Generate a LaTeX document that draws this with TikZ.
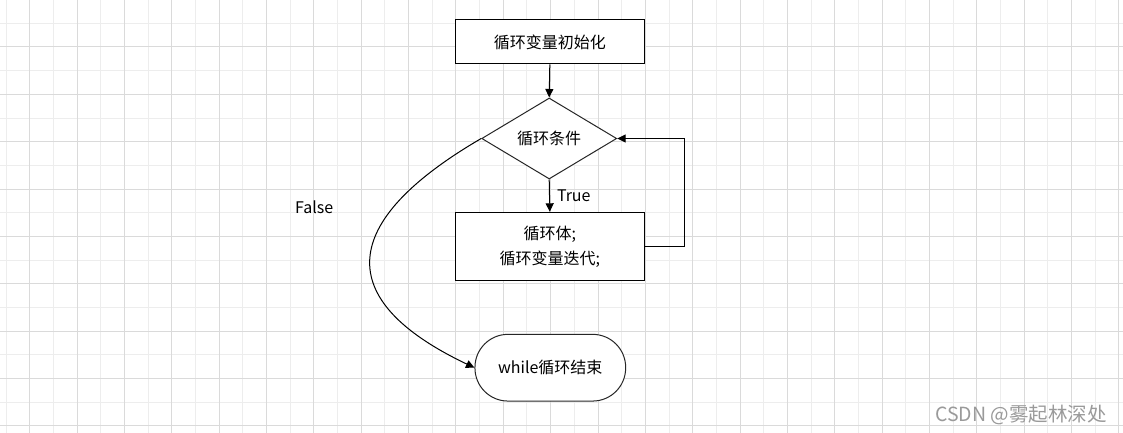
\documentclass[tikz,border=0pt]{standalone}
\usepackage{fontspec}
\setmainfont{Noto Sans CJK SC}
\usetikzlibrary{arrows.meta,shapes.geometric}
\definecolor{gridlight}{HTML}{EDEDED}
\definecolor{griddark}{HTML}{DADADA}
\definecolor{wmgray}{HTML}{9A9A9A}
\begin{document}
\begin{tikzpicture}[x=1pt,y=-1pt,
  txt/.style={font=\fontsize{16}{25}\selectfont,text=black},
  box/.style={txt,draw=black,line width=1pt,fill=white,minimum width=189pt,inner sep=0pt,align=center},
  dia/.style={txt,diamond,draw=black!85,line width=1pt,fill=white,minimum width=135pt,minimum height=81pt,inner sep=0pt,shape aspect=1.67},
  term/.style={txt,draw=black!85,line width=1pt,fill=white,rounded corners=33pt,minimum width=150.7pt,minimum height=66.7pt,inner sep=0pt},
  arr/.style={draw=black,line width=1pt,-{Triangle[length=8.5pt,width=8pt]}},
  lbl/.style={txt,inner sep=0pt}
]
\useasboundingbox (0,0) rectangle (1123,433);
\fill[white] (0,0) rectangle (1123,433);
% grid
\foreach \k in {0,2,...,46} {\draw[gridlight,line width=1pt] ({6+23.68*\k},0) -- ({6+23.68*\k},433);}
\foreach \j in {0,2,...,16} {\draw[gridlight,line width=1pt] (0,{23.3+23.68*\j}) -- (1123,{23.3+23.68*\j});}
\foreach \k in {1,3,...,47} {\draw[griddark,line width=1pt] ({6+23.68*\k},0) -- ({6+23.68*\k},433);}
\foreach \j in {1,3,...,17} {\draw[griddark,line width=1pt] (0,{23.3+23.68*\j}) -- (1123,{23.3+23.68*\j});}

\node[box,minimum height=44pt] (init) at (549.8,42) {循环变量初始化};
\node[dia] (cond) at (549.2,138.5) {循环条件};
\node[box,minimum height=68pt] (body) at (549.8,246.3) {循环体;\\循环变量迭代;};
\node[term] (end) at (550.3,367.7) {while循环结束};

\draw[arr] (init.south) -- (cond.north);
\draw[arr] (cond.south) -- node[lbl,anchor=west,xshift=7pt] (true) {True} (body.north);
\draw[arr] (body.east) -- ++(39.6,0) |- (cond.east);
\draw[arr] (cond.west) .. controls (338,222) and (332,300) .. (end.west);

\node[lbl] (false) at (314.2,207.3) {False};
\node[anchor=east,inner sep=0pt,text=wmgray,font=\fontsize{19.5}{21}\selectfont] (wm) at (1107,415) {CSDN @雾起林深处};
\end{tikzpicture}
\end{document}
